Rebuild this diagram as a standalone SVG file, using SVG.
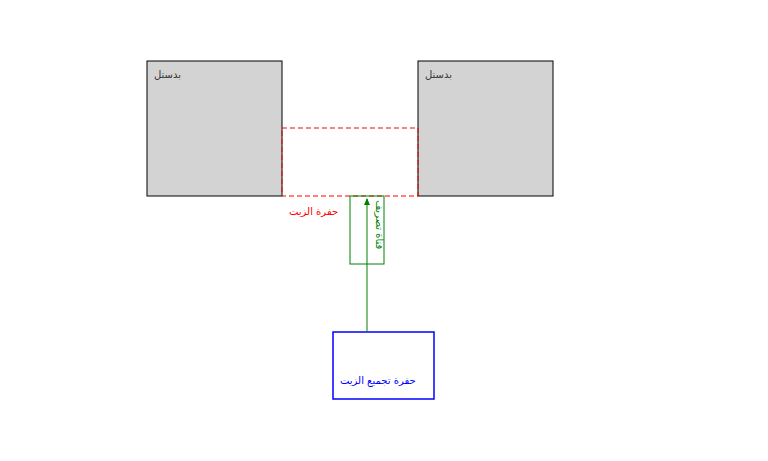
<svg xmlns="http://www.w3.org/2000/svg" width="768" height="461" viewBox="0 0 768 461">
<style>
text{font-family:"DejaVu Sans","Noto Sans",sans-serif;font-size:10px}
.ped{fill:#d3d3d3;stroke:#000;stroke-width:1}
</style>
<defs><marker id="ah" markerWidth="8" markerHeight="8" refX="6" refY="4" orient="auto"><path d="M0,1 L7,4 L0,7 Z" fill="green"/></marker></defs>
<rect width="768" height="461" fill="#fff"/>
<g id="pedestal-left"><rect class="ped" x="147" y="61" width="135" height="135"/><text x="154" y="78" fill="#333">بدستل</text></g>
<g id="pedestal-right"><rect class="ped" x="418" y="61" width="135" height="135"/><text x="425" y="78" fill="#333">بدستل</text></g>
<g id="oil-pit"><rect x="282" y="128" width="136" height="68" fill="none" stroke="red" stroke-dasharray="5,3"/><text x="289" y="215" fill="red">حفرة الزيت</text></g>
<g id="channel"><rect x="350" y="196" width="34" height="68" fill="none" stroke="green"/><text transform="translate(376,200) rotate(90)" fill="green">قناة تصريف</text></g>
<g id="collection-pit"><rect x="333" y="332" width="101" height="67" fill="none" stroke="blue" stroke-width="1.5"/><text x="340" y="384" fill="blue">حفرة تجميع الزيت</text></g>
<g id="connectors"><line x1="367" y1="332" x2="367" y2="199" stroke="green" marker-end="url(#ah)"/></g>
</svg>
